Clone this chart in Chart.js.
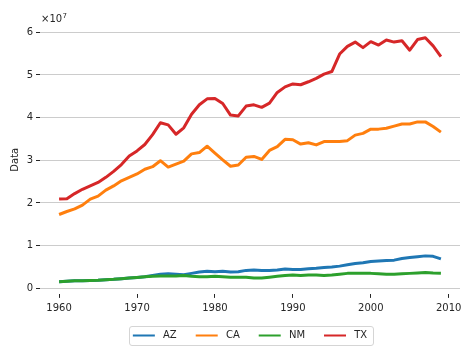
<!DOCTYPE html>
<html><head><meta charset="utf-8">
<script src="https://cdn.jsdelivr.net/npm/chart.js@4/dist/chart.umd.min.js"></script>
<style>html,body{margin:0;padding:0;background:#fff}#wrap{width:474px;height:355px}</style>
</head><body><div id="wrap"><canvas id="c" width="474" height="355"></canvas></div>
<script>
const years = [1960,1961,1962,1963,1964,1965,1966,1967,1968,1969,
  1970,1971,1972,1973,1974,1975,1976,1977,1978,1979,
  1980,1981,1982,1983,1984,1985,1986,1987,1988,1989,
  1990,1991,1992,1993,1994,1995,1996,1997,1998,1999,
  2000,2001,2002,2003,2004,2005,2006,2007,2008,2009];
const AZ = [1.55e6,1.65e6,1.75e6,1.80e6,1.85e6,1.90e6,2.00e6,2.10e6,2.25e6,2.40e6,
  2.55e6,2.70e6,3.00e6,3.30e6,3.40e6,3.30e6,3.20e6,3.50e6,3.80e6,4.00e6,
  3.90e6,4.00e6,3.80e6,3.90e6,4.20e6,4.30e6,4.20e6,4.20e6,4.30e6,4.50e6,
  4.40e6,4.40e6,4.60e6,4.70e6,4.90e6,5.00e6,5.20e6,5.50e6,5.80e6,6.00e6,
  6.30e6,6.40e6,6.50e6,6.60e6,7.00e6,7.20e6,7.40e6,7.60e6,7.50e6,6.90e6];
const CA = [1.73e7,1.80e7,1.86e7,1.95e7,2.09e7,2.16e7,2.30e7,2.40e7,2.52e7,2.60e7,
  2.68e7,2.79e7,2.85e7,2.99e7,2.84e7,2.91e7,2.98e7,3.15e7,3.18e7,3.33e7,
  3.17e7,3.01e7,2.86e7,2.89e7,3.07e7,3.09e7,3.02e7,3.23e7,3.32e7,3.49e7,
  3.48e7,3.38e7,3.41e7,3.36e7,3.44e7,3.44e7,3.44e7,3.46e7,3.59e7,3.63e7,
  3.73e7,3.73e7,3.75e7,3.80e7,3.85e7,3.85e7,3.90e7,3.90e7,3.79e7,3.66e7];
const NM = [1.55e6,1.65e6,1.75e6,1.80e6,1.85e6,1.90e6,2.00e6,2.10e6,2.25e6,2.40e6,
  2.55e6,2.70e6,2.80e6,2.90e6,2.90e6,2.90e6,3.00e6,2.80e6,2.70e6,2.70e6,
  2.80e6,2.70e6,2.60e6,2.60e6,2.60e6,2.40e6,2.40e6,2.60e6,2.80e6,3.00e6,
  3.10e6,3.00e6,3.10e6,3.10e6,3.00e6,3.10e6,3.30e6,3.50e6,3.50e6,3.50e6,
  3.50e6,3.40e6,3.30e6,3.30e6,3.40e6,3.50e6,3.60e6,3.70e6,3.60e6,3.55e6];
const TX = [2.09e7,2.10e7,2.22e7,2.32e7,2.40e7,2.48e7,2.60e7,2.74e7,2.90e7,3.10e7,
  3.22e7,3.37e7,3.60e7,3.88e7,3.83e7,3.61e7,3.76e7,4.08e7,4.30e7,4.44e7,
  4.45e7,4.33e7,4.06e7,4.04e7,4.27e7,4.30e7,4.24e7,4.34e7,4.59e7,4.72e7,
  4.79e7,4.77e7,4.84e7,4.92e7,5.02e7,5.08e7,5.49e7,5.67e7,5.77e7,5.64e7,
  5.78e7,5.70e7,5.82e7,5.77e7,5.80e7,5.58e7,5.83e7,5.87e7,5.68e7,5.43e7];
const seriesNames = ['AZ','CA','NM','TX'];
const seriesColors = ['#1f77b4','#ff7f0e','#2ca02c','#d62728'];
const xTicks = [1960,1970,1980,1990,2000,2010];
const yTicks = [0,1e7,2e7,3e7,4e7,5e7,6e7];
const yTickLabels = ['0','1','2','3','4','5','6'];
const yLabel = 'Data';
const offsetLabel = '\u00d710';
const offsetExp = '7';

const FONT = 'DejaVu Sans';
const TXT = '#262626';
const allSeries = [AZ, CA, NM, TX];

const datasets = allSeries.map((arr, i) => ({
  label: seriesNames[i],
  data: years.map((yr, j) => ({x: yr, y: arr[j]})),
  borderColor: seriesColors[i],
  backgroundColor: seriesColors[i],
  borderWidth: 3,
  borderJoinStyle: 'round',
  pointRadius: 0,
  fill: false,
  tension: 0,
  order: allSeries.length - 1 - i
}));

const legendFrame = {
  id: 'legendFrame',
  beforeDraw(chart) {
    const ctx = chart.ctx;
    ctx.save();
    ctx.fillStyle = '#fff';
    ctx.fillRect(0, 0, chart.width, chart.height);
    const hb = chart.legend && chart.legend.legendHitBoxes;
    if (hb && hb.length) {
      const l = Math.min(...hb.map(h => h.left)) - 3.5;
      const r = Math.max(...hb.map(h => h.left + h.width)) + 6;
      const cy = hb[0].top + hb[0].height / 2;
      const t = cy - 9.5, b = cy + 9.5;
      ctx.beginPath();
      ctx.roundRect(Math.round(l) + 0.5, Math.round(t) + 0.5, Math.round(r - l), Math.round(b - t), 2.5);
      ctx.strokeStyle = '#d5d5d5';
      ctx.lineWidth = 1;
      ctx.stroke();
    }
    ctx.restore();
  },
  afterDraw(chart) {
    const ctx = chart.ctx;
    const a = chart.chartArea;
    ctx.save();
    ctx.fillStyle = TXT;
    ctx.textBaseline = 'alphabetic';
    ctx.font = '10px "' + FONT + '"';
    ctx.fillText(offsetLabel, a.left + 1, a.top - 3.5);
    const w = ctx.measureText(offsetLabel).width;
    ctx.font = '7px "' + FONT + '"';
    ctx.fillText(offsetExp, a.left + 1 + w + 0.5, a.top - 8);
    ctx.restore();
  }
};

new Chart(document.getElementById('c'), {
  type: 'line',
  data: { datasets },
  plugins: [legendFrame],
  options: {
    responsive: false,
    animation: false,
    devicePixelRatio: 1,
    layout: { padding: { left: 0, right: 14, top: 25.6, bottom: 4.4 } },
    plugins: {
      tooltip: { enabled: false },
      legend: {
        position: 'bottom',
        fullSize: false,
        labels: {
          usePointStyle: true,
          pointStyleWidth: 22,
          padding: 19,
          color: TXT,
          font: { family: FONT, size: 10 },
          generateLabels: (chart) => chart.data.datasets.map((ds, i) => ({
            text: ' ' + ds.label,
            fillStyle: ds.borderColor,
            strokeStyle: ds.borderColor,
            lineWidth: 2,
            pointStyle: 'line',
            hidden: false,
            datasetIndex: i,
            fontColor: TXT
          }))
        }
      }
    },
    scales: {
      x: {
        type: 'linear',
        min: 1957.55,
        max: 2011.45,
        border: { display: false },
        grid: { drawOnChartArea: false, drawTicks: true, tickLength: 4, tickColor: TXT, lineWidth: 1 },
        ticks: { color: TXT, font: { family: FONT, size: 10 }, padding: 5, maxRotation: 0, callback: v => String(v) },
        afterBuildTicks: s => { s.ticks = xTicks.map(v => ({ value: v })); },
        afterFit: s => { s.height = 17.7; }
      },
      y: {
        type: 'linear',
        min: -1.31e6,
        max: 6.156e7,
        border: { display: false },
        grid: { color: '#cccccc', lineWidth: 1, drawTicks: true, tickLength: 4, tickColor: TXT },
        ticks: { color: TXT, font: { family: FONT, size: 10 }, padding: 3,
          callback: (v) => { const k = yTicks.indexOf(v); return k >= 0 ? yTickLabels[k] : ''; } },
        afterBuildTicks: s => { s.ticks = yTicks.map(v => ({ value: v })); },
        title: { display: true, text: yLabel, color: TXT, font: { family: FONT, size: 10 }, padding: { top: 9.7, bottom: 0 } },
        afterFit: s => { s.width = 40; }
      }
    }
  }
});
</script>
</body></html>
